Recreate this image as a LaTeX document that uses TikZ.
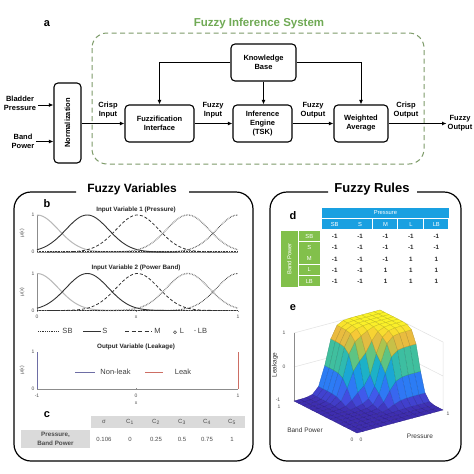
\documentclass[tikz,border=0pt]{standalone}
\usepackage{fontspec}
\setmainfont{Liberation Sans}
\usepackage{pgfplots}
\pgfplotsset{compat=1.18}
\usetikzlibrary{arrows.meta}
\definecolor{fisgreen}{RGB}{112,170,85}
\definecolor{dashgreen}{RGB}{125,155,105}
\definecolor{tblue}{RGB}{25,160,225}
\definecolor{tgreen}{RGB}{130,192,75}
\definecolor{tgrey}{RGB}{218,218,218}
\definecolor{nlcol}{RGB}{110,110,165}
\definecolor{lkcol}{RGB}{205,110,100}
\definecolor{gridc}{RGB}{225,225,225}
\newcommand\myfs[2]{\fontsize{#1}{#2}\selectfont}
\newcommand\mfcurve[5]{\draw[#1] plot[domain=#4:#5,samples=60,smooth] ({37+201*\x},{#2-37*exp(-((\x-#3)*(\x-#3))/0.022472)});}
\tikzset{
 blk/.style={draw, rounded corners=4pt, line width=1.1pt, align=center, font=\bfseries\myfs{7.5}{9}, inner sep=1pt},
 lbl/.style={align=center, font=\bfseries\myfs{7.5}{9}, inner sep=0pt},
 arr/.style={line width=1pt, -{Latex[length=4.5pt,width=4pt]}},
 panel/.style={line width=1.2pt, rounded corners=17pt},
 plett/.style={font=\bfseries\myfs{11}{12}, inner sep=0pt},
 ptitle/.style={font=\bfseries\myfs{6.3}{7}, inner sep=0pt, text=black!85},
 tck/.style={font=\myfs{5}{6}, text=black!70, inner sep=0pt},
 axc/.style={draw=black!45, line width=0.5pt},
 sbc/.style={draw=black!28, line width=1pt},
 sc/.style={draw=black!80, line width=0.9pt},
 mc/.style={draw=black!80, line width=0.8pt, dash pattern=on 3pt off 2pt},
 lc/.style={draw=black!50, line width=1.3pt, dash pattern=on 0.7pt off 0.9pt},
 lbc/.style={draw=black!80, line width=1pt, dash pattern=on 0.6pt off 1pt},
 legt/.style={font=\myfs{7.5}{8}, text=black!75, inner sep=0pt},
 tabt/.style={font=\myfs{6}{7}, text=black!70, inner sep=0pt},
 cellt/.style={font=\myfs{5.8}{7}, text=white, inner sep=0pt},
 valt/.style={font=\bfseries\myfs{6.2}{7}, text=black!85, inner sep=0pt},
 elab/.style={font=\myfs{6.5}{7}, text=black!80, inner sep=0pt},
}
\begin{document}
\begin{tikzpicture}
\useasboundingbox (0pt,0pt) rectangle (474pt,-474pt);
\fill[white] (0pt,0pt) rectangle (474pt,-474pt);
\begin{scope}[x=1pt,y=-1pt]
% ---------------- panel a ----------------
\node[plett] (alab) at (47,24) {a};
\node[font=\bfseries\myfs{11.5}{13}, text=fisgreen] (fist) at (259,24) {Fuzzy Inference System};
\draw[dashgreen, line width=1pt, dash pattern=on 5pt off 3.5pt, rounded corners=15pt] (92,33) rectangle (424,164);
\node[blk, minimum width=65pt, minimum height=37pt] (kb) at (263.5,62.5) {Knowledge\\Base};
\node[blk, minimum width=69pt, minimum height=37pt] (fuzz) at (159.5,123.5) {Fuzzification\\Interface};
\node[blk, minimum width=59pt, minimum height=37pt] (inf) at (262.5,123.5) {Inference\\Engine\\(TSK)};
\node[blk, minimum width=54pt, minimum height=37pt] (wavg) at (361,123.5) {Weighted\\Average};
\node[blk, minimum width=27pt, minimum height=80pt] (norm) at (67.5,123) {};
\node[rotate=90, font=\bfseries\myfs{7.5}{9}] (normt) at (norm.center) {Normalization};
\node[lbl] (bp) at (20,103) {Bladder\\Pressure};
\node[lbl] (bpow) at (23,141.5) {Band\\Power};
\coordinate (bpa) at ([xshift=2pt,yshift=-2pt]bp.east);
\coordinate (bpowa) at ([xshift=2pt]bpow.east);
\draw[arr] (bpa) -- (bpa -| norm.west);
\draw[arr] (bpowa) -- (bpowa -| norm.west);
\node[lbl] (ci) at (108,110.5) {Crisp\\Input};
\node[lbl] (fi) at (213,110.5) {Fuzzy\\Input};
\node[lbl] (fout) at (313,110.5) {Fuzzy\\Output};
\node[lbl] (co) at (406,110.5) {Crisp\\Output};
\node[lbl] (fo) at (460,123.5) {Fuzzy\\Output};
\draw[arr] (norm.east |- fuzz.west) -- (fuzz.west);
\draw[arr] (fuzz) -- (inf);
\draw[arr] (inf) -- (wavg);
\draw[arr, shorten >=1pt] (wavg) -- (fo);
\draw[arr] (kb.west) -| (fuzz.north);
\draw[arr] (kb.south) -- (kb.south |- inf.north);
\draw[arr] (kb.east) -| (wavg.north);
% ---------------- panel b / c ----------------
\node[font=\bfseries\myfs{12}{13}] (fvt) at (132,189) {Fuzzy Variables};
\draw[panel] (76,192) -- (14,192) -- (14,461) -- (253,461) -- (253,192) -- (189,192);
\node[plett] (blab) at (47,204) {b};
% plot 1
\node[ptitle] (t1) at (136,210) {Input Variable 1 (Pressure)};
\draw[axc] (37,215) -- (37,252) -- (238,252);
\foreach \yy in {215,252} {\draw[axc] (37,\yy) -- (38.5,\yy);}
\node[tck] (p1y1) at (33,215) {1};
\node[tck] (p1y0) at (33,252) {0};
\node[tck, rotate=90] (p1mu) at (22,233.5) {μ(x)};
\mfcurve{sbc}{252}{0}{0}{0.45}
\mfcurve{sc}{252}{0.25}{0}{0.7}
\mfcurve{mc}{252}{0.5}{0.05}{0.95}
\mfcurve{lc}{252}{0.75}{0.3}{1}
\mfcurve{lbc}{252}{1}{0.55}{1}
\draw[lbc] (37,251.6) -- (238,251.6);
% plot 2
\node[ptitle] (t2) at (136,267.5) {Input Variable 2 (Power Band)};
\draw[axc] (37,273.5) -- (37,310.5) -- (238,310.5);
\foreach \xx in {37,136,238} {\draw[axc] (\xx,310.5) -- (\xx,312);}
\node[tck] (p2y1) at (33,273.5) {1};
\node[tck] (p2y0) at (33,310.5) {0};
\node[tck, rotate=90] (p2mu) at (22,292) {μ(x)};
\mfcurve{sbc}{310.5}{0}{0}{0.45}
\mfcurve{sc}{310.5}{0.25}{0}{0.7}
\mfcurve{mc}{310.5}{0.5}{0.05}{0.95}
\mfcurve{lc}{310.5}{0.75}{0.3}{1}
\mfcurve{lbc}{310.5}{1}{0.55}{1}
\draw[lbc] (37,310.1) -- (238,310.1);
\node[tck] (p2x0) at (37,317) {0};
\node[tck] (p2xx) at (136,317) {x};
\node[tck] (p2x1) at (238,317) {1};
% legend
\draw[black!80, line width=0.9pt, dash pattern=on 0.8pt off 1pt] (38,331) -- (58,331);
\node[legt] (lsb) at (67.5,331) {SB};
\draw[sc] (83,331) -- (101,331);
\node[legt] (ls) at (105,331) {S};
\draw[black!80, line width=0.9pt, dash pattern=on 4pt off 2.5pt] (125,331) -- (152,331);
\node[legt] (lm) at (157.5,331) {M};
\draw[black!70, line width=0.5pt] (175,332.2) circle (1.5pt);
\node[legt] (ll) at (182,331) {L};
\fill[black!60] (195,330.5) circle (0.6pt);
\node[legt] (llb) at (202.5,331) {LB};
% plot 3
\node[ptitle] (t3) at (136,347) {Output Variable (Leakage)};
\draw[axc] (37,389) -- (238,389);
\draw[axc] (136,389) -- (136,387.5);
\draw[nlcol, line width=1pt] (37,389) -- (37,352);
\draw[lkcol, line width=1pt] (238,389) -- (238,352);
\node[tck] (p3y1) at (33,352) {1};
\node[tck] (p3y0) at (33,389) {0};
\node[tck, rotate=90] (p3mu) at (22,370.5) {μ(x)};
\node[tck] (p3xa) at (37,396) {-1};
\node[tck] (p3xb) at (136,396) {0};
\node[tck] (p3xc) at (238,396) {1};
\node[tck] (p3xx) at (136,403.5) {x};
\draw[nlcol, line width=1pt] (75,372) -- (95,372);
\node[legt] (lnl) at (115.5,372) {Non-leak};
\draw[lkcol, line width=1pt] (145,372) -- (163,372);
\node[legt] (llk) at (183,372) {Leak};
% table c
\node[plett] (clab) at (47,415) {c};
\fill[tgrey] (91,416) rectangle (245,428);
\fill[tgrey] (21,430) rectangle (90,448);
\node[tabt] (hs) at (104,422) {σ};
\node[tabt] (h1) at (130,422) {C\textsubscript{1}};
\node[tabt] (h2) at (156,422) {C\textsubscript{2}};
\node[tabt] (h3) at (182,422) {C\textsubscript{3}};
\node[tabt] (h4) at (207,422) {C\textsubscript{4}};
\node[tabt] (h5) at (232,422) {C\textsubscript{5}};
\node[tabt, font=\bfseries\myfs{6.3}{8.5}, align=center] (rl) at (55.5,439) {Pressure,\\Band Power};
\node[tabt] (v0) at (104,439) {0.106};
\node[tabt] (v1) at (130,439) {0};
\node[tabt] (v2) at (156,439) {0.25};
\node[tabt] (v3) at (182,439) {0.5};
\node[tabt] (v4) at (207,439) {0.75};
\node[tabt] (v5) at (232,439) {1};
% ---------------- panel d / e ----------------
\node[font=\bfseries\myfs{13}{14}] (frt) at (372,189) {Fuzzy Rules};
\draw[panel] (328,192) -- (270,192) -- (270,461) -- (461,461) -- (461,192) -- (417,192);
\node[plett] (dlab) at (293,216) {d};
\fill[tblue] (322,208) rectangle (449,218);
\node[cellt] (pres) at (385.5,213) {Pressure};
\foreach \lab [count=\k from 0] in {SB,S,M,L,LB} {
  \fill[tblue] (322+25.4*\k,219.2) rectangle (321.2+25.4*\k+25.4,229);
  \node[cellt] (ph\k) at (334.7+25.4*\k,224.1) {\lab};
}
\fill[tgreen] (281,231) rectangle (297.6,287);
\node[cellt, rotate=90] (bpw) at (289.3,259) {Band Power};
\foreach \lab [count=\r from 0] in {SB,S,M,L,LB} {
  \fill[tgreen] (298.6,231+11.2*\r) rectangle (320,230.2+11.2*\r+11.2);
  \node[cellt] (rh\r) at (309.3,236.4+11.2*\r) {\lab};
}
\foreach \row [count=\r from 0] in {{-1,-1,-1,-1,-1},{-1,-1,-1,-1,-1},{-1,-1,-1,1,1},{-1,-1,1,1,1},{-1,-1,1,1,1}} {
  \foreach \v [count=\k from 0] in \row {
    \node[valt] (m\r\k) at (334.7+25.4*\k,236.6+11.2*\r) {\v};
  }
}
\node[plett] (elab) at (293,308) {e};
% 3D box (back panes)
\coordinate (L0) at (294,401); \coordinate (B0) at (380,378); \coordinate (R0) at (443,410);
\coordinate (L1) at (294,333); \coordinate (B1) at (380,310); \coordinate (R1) at (443,342);
\coordinate (Lm) at (294,367); \coordinate (Bm) at (380,344); \coordinate (Rm) at (443,376);
\draw[gridc, line width=0.5pt] (L1) -- (B1) -- (R1) (Lm) -- (Bm) -- (Rm) (L0) -- (B0) -- (R0) (B0) -- (B1) (R0) -- (R1);
\draw[black!45, line width=0.5pt] (L0) -- (L1);
\end{scope}
\begin{axis}[
  anchor=origin, at={(357pt,-399pt)},
  x={(86pt,23pt)}, y={(-63pt,32pt)}, z={(0pt,34pt)},
  xmin=0, xmax=1, ymin=0, ymax=1, zmin=-1, zmax=1,
  hide axis, clip=false, disabledatascaling,
  colormap={parulaish}{rgb255=(62,45,175) rgb255=(68,82,232) rgb255=(45,122,245) rgb255=(25,155,228) rgb255=(30,180,195) rgb255=(80,196,140) rgb255=(170,196,80) rgb255=(245,186,60) rgb255=(250,242,40)},
  point meta min=-1, point meta max=1,
  declare function={gs(\a,\c)=exp(-((\a-\c)^2)/0.022472);},
]
\addplot3[surf, shader=faceted, samples=15, samples y=15, domain=0:1, y domain=0:1, z buffer=sort, line width=0.3pt]
 {2*(gs(y,0.5)*(gs(x,0.75)+gs(x,1)) + (gs(y,0.75)+gs(y,1))*(gs(x,0.5)+gs(x,0.75)+gs(x,1)))/((gs(x,0)+gs(x,0.25)+gs(x,0.5)+gs(x,0.75)+gs(x,1))*(gs(y,0)+gs(y,0.25)+gs(y,0.5)+gs(y,0.75)+gs(y,1))) - 1};
\end{axis}
\begin{scope}[x=1pt,y=-1pt]
\node[tck] (ez1) at (284,333) {1};
\node[tck] (ez0) at (284,367) {0};
\node[tck] (ezm) at (278,400) {-1};
\node[tck] (eb1) at (279,407) {1};
\node[tck] (eb0) at (352,440) {0};
\node[tck] (ep0) at (361,440) {0};
\node[tck] (ep1) at (448,414) {1};
\node[elab, rotate=90] (eleak) at (275,365) {Leakage};
\node[elab] (ebp) at (305,430) {Band Power};
\node[elab] (epr) at (420,436) {Pressure};
\end{scope}
\end{tikzpicture}
\end{document}
